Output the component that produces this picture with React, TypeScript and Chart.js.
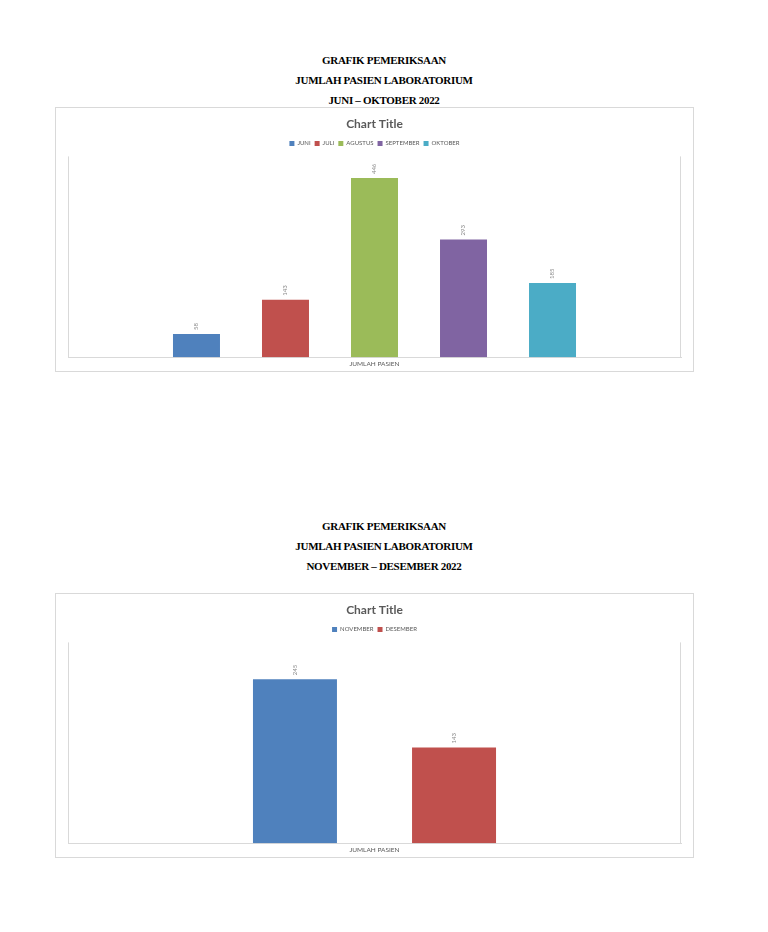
import React, { useEffect, useRef } from "react";
import { Chart, registerables } from "chart.js";

Chart.register(...registerables);

const categories = ["JUMLAH PASIEN"];

const months1 = ["JUNI", "JULI", "AGUSTUS", "SEPTEMBER", "OKTOBER"];
const values1 = [58, 143, 446, 293, 185];

const months2 = ["NOVEMBER", "DESEMBER"];
const values2 = [245, 143];

const palette = ["#4F81BD", "#C0504D", "#9BBB59", "#8064A2", "#4BACC6"];

const headings1 = ["GRAFIK PEMERIKSAAN", "JUMLAH PASIEN LABORATORIUM", "JUNI \u2013 OKTOBER 2022"];
const headings2 = ["GRAFIK PEMERIKSAAN", "JUMLAH PASIEN LABORATORIUM", "NOVEMBER \u2013 DESEMBER 2022"];

const FONT = "Lato, 'Liberation Sans', sans-serif";

const frameAndLabels = {
  id: "frameAndLabels",
  beforeDatasetsDraw(chart: any) {
    const { ctx, chartArea } = chart;
    ctx.save();
    ctx.strokeStyle = "#d9d9d9";
    ctx.lineWidth = 1;
    ctx.beginPath();
    ctx.moveTo(chartArea.left + 0.5, chartArea.top);
    ctx.lineTo(chartArea.left + 0.5, chartArea.bottom);
    ctx.moveTo(chartArea.right - 0.5, chartArea.top);
    ctx.lineTo(chartArea.right - 0.5, chartArea.bottom);
    ctx.stroke();
    ctx.restore();
  },
  afterDatasetsDraw(chart: any) {
    const { ctx } = chart;
    ctx.save();
    ctx.fillStyle = "#8c8c8c";
    ctx.font = `6px ${FONT}`;
    chart.data.datasets.forEach((ds: any, i: number) => {
      const meta = chart.getDatasetMeta(i);
      meta.data.forEach((bar: any, j: number) => {
        const v = ds.data[j];
        ctx.save();
        ctx.translate(bar.x, bar.y - 4);
        ctx.rotate(-Math.PI / 2);
        ctx.textAlign = "left";
        ctx.textBaseline = "middle";
        ctx.fillText(String(v), 0, 0);
        ctx.restore();
      });
    });
    ctx.restore();
  },
};

function BarChart(props: {
  months: string[];
  values: number[];
  yMax: number;
  categoryPercentage: number;
  barPercentage: number;
}) {
  const ref = useRef<HTMLCanvasElement>(null);
  useEffect(() => {
    if (!ref.current) return;
    const chart = new Chart(ref.current, {
      type: "bar",
      data: {
        labels: categories,
        datasets: props.months.map((m, i) => ({
          label: m,
          data: [props.values[i]],
          backgroundColor: palette[i],
          borderWidth: 0,
          categoryPercentage: props.categoryPercentage,
          barPercentage: props.barPercentage,
        })),
      },
      options: {
        animation: false,
        responsive: true,
        maintainAspectRatio: false,
        layout: { padding: { left: 12, right: 12, top: 0, bottom: 0 } },
        plugins: {
          title: {
            display: true,
            text: "Chart Title",
            color: "#595959",
            font: { family: FONT, size: 12, weight: "bold" },
            padding: { top: 9, bottom: 5 },
          },
          legend: {
            display: true,
            position: "top",
            labels: {
              boxWidth: 5,
              boxHeight: 5,
              color: "#595959",
              font: { family: FONT, size: 6 },
              padding: 4,
            },
          },
          tooltip: { enabled: false },
        },
        scales: {
          x: {
            grid: { display: false, drawTicks: false, tickLength: 0 },
            border: { display: true, color: "#d9d9d9" },
            ticks: {
              color: "#595959",
              font: { family: FONT, size: 6.5 },
              padding: 3,
            },
          },
          y: {
            display: false,
            min: 0,
            max: props.yMax,
          },
        },
      },
      plugins: [frameAndLabels],
    });
    return () => chart.destroy();
  }, []);
  return <canvas ref={ref} />;
}

const headingStyle: React.CSSProperties = {
  position: "absolute",
  left: 0,
  width: 768,
  textAlign: "center",
  fontFamily: "'Liberation Serif', 'Times New Roman', serif",
  fontWeight: "bold",
  fontSize: 11,
  letterSpacing: -0.3,
  color: "#000",
  lineHeight: "14px",
};

const boxStyle: React.CSSProperties = {
  position: "absolute",
  left: 55,
  width: 637,
  border: "1px solid #d9d9d9",
  background: "#fff",
};

export default function App() {
  return (
    <div style={{ position: "absolute", left: 0, top: 0, width: 768, height: 932, background: "#fff" }}>
      {headings1.map((h, i) => (
        <div key={"a" + i} style={{ ...headingStyle, top: 53 + i * 20 }}>{h}</div>
      ))}
      <div style={{ ...boxStyle, top: 107, height: 263 }}>
        <BarChart months={months1} values={values1} yMax={500} categoryPercentage={0.726} barPercentage={0.528} />
      </div>
      {headings2.map((h, i) => (
        <div key={"b" + i} style={{ ...headingStyle, top: 519 + i * 20 }}>{h}</div>
      ))}
      <div style={{ ...boxStyle, top: 593, height: 263 }}>
        <BarChart months={months2} values={values2} yMax={300} categoryPercentage={0.519} barPercentage={0.528} />
      </div>
    </div>
  );
}
